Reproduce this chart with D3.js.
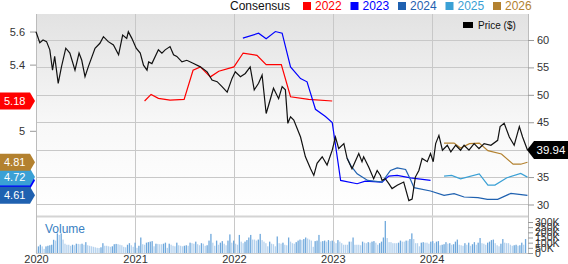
<!DOCTYPE html>
<html>
<head>
<meta charset="utf-8">
<script src="https://cdn.jsdelivr.net/npm/d3@7"></script>
<style>
  body { margin: 0; background: #fff; }
  svg { display: block; font-family: "Liberation Sans", Arial, sans-serif; }
</style>
</head>
<body>
<div id="chart"></div>
<script>
// Consensus EPS estimates vs. share price, 2020-2024

// ---------- Data ----------
const yearTicks = ["2020-01-01", "2021-01-01", "2022-01-01", "2023-01-01", "2024-01-01"];
const epsTicks = [5, 5.4, 5.6];           // the others sit under the badges
const priceTicks = [30, 35, 40, 45, 50, 55, 60];
const volumeTicks = [0, 50000, 100000, 150000, 200000, 250000, 300000];

const priceSeries = [
  ["2020-01-01", 61.5], ["2020-01-15", 59.5], ["2020-01-27", 60.0], ["2020-02-09", 59.7],
  ["2020-02-21", 58.2], ["2020-03-02", 54.5], ["2020-03-10", 57.0], ["2020-03-23", 52.1],
  ["2020-04-04", 55.1], ["2020-04-20", 58.5], ["2020-05-05", 57.6], ["2020-05-24", 54.5],
  ["2020-06-08", 57.6], ["2020-06-18", 56.3], ["2020-06-30", 53.3], ["2020-07-12", 55.1],
  ["2020-08-06", 58.5], ["2020-08-24", 59.4], ["2020-09-06", 60.6], ["2020-09-24", 59.7],
  ["2020-10-13", 59.1], ["2020-11-01", 57.3], ["2020-11-16", 60.9], ["2020-12-01", 60.3],
  ["2020-12-07", 61.5], ["2020-12-20", 60.3], ["2021-01-05", 58.5], ["2021-01-20", 57.6],
  ["2021-02-01", 55.4], ["2021-02-14", 54.5], ["2021-02-20", 56.0], ["2021-03-04", 55.7],
  ["2021-03-28", 58.2], ["2021-04-10", 57.6], ["2021-04-22", 58.2], ["2021-05-10", 58.8],
  ["2021-05-23", 57.3], ["2021-06-04", 57.0], ["2021-06-23", 56.0], ["2021-07-11", 56.3],
  ["2021-08-05", 55.7], ["2021-08-30", 55.1], ["2021-09-24", 54.2], ["2021-10-12", 52.7],
  ["2021-10-31", 52.4], ["2021-11-18", 51.5], ["2021-12-07", 50.5], ["2021-12-25", 53.0],
  ["2022-01-06", 54.2], ["2022-01-25", 53.3], ["2022-02-12", 53.9], ["2022-03-02", 55.1],
  ["2022-03-17", 50.9], ["2022-04-02", 52.1], ["2022-04-15", 53.6], ["2022-04-30", 46.6],
  ["2022-05-09", 48.1], ["2022-05-27", 51.2], ["2022-06-15", 49.3], ["2022-06-28", 51.5],
  ["2022-07-10", 50.9], ["2022-07-19", 44.8], ["2022-07-29", 46.0], ["2022-08-10", 45.4],
  ["2022-09-04", 42.3], ["2022-09-22", 38.7], ["2022-10-11", 36.5], ["2022-10-23", 35.3],
  ["2022-11-04", 37.5], ["2022-11-23", 38.7], ["2022-12-11", 37.2], ["2022-12-30", 39.9],
  ["2023-01-11", 42.3], ["2023-01-23", 40.2], ["2023-02-11", 41.1], ["2023-02-23", 38.4],
  ["2023-03-13", 36.5], ["2023-04-07", 39.3], ["2023-04-19", 37.8], ["2023-04-25", 38.7],
  ["2023-05-14", 36.8], ["2023-06-01", 34.7], ["2023-06-14", 36.2], ["2023-06-26", 35.3],
  ["2023-07-02", 34.4], ["2023-07-14", 34.7], ["2023-07-27", 33.8], ["2023-08-08", 32.9],
  ["2023-08-27", 33.5], ["2023-09-20", 34.1], ["2023-10-09", 30.7], ["2023-10-21", 31.0],
  ["2023-11-02", 35.0], ["2023-11-15", 36.2], ["2023-11-27", 38.4], ["2023-12-16", 37.8],
  ["2023-12-28", 39.3], ["2024-01-07", 37.8], ["2024-01-16", 41.1], ["2024-01-28", 42.6],
  ["2024-02-10", 39.9], ["2024-02-28", 40.8], ["2024-03-12", 39.6], ["2024-03-30", 40.8],
  ["2024-04-17", 39.9], ["2024-04-30", 40.8], ["2024-05-18", 39.9], ["2024-06-06", 41.1],
  ["2024-06-24", 40.2], ["2024-07-13", 41.1], ["2024-08-07", 40.8], ["2024-09-01", 41.7],
  ["2024-09-10", 44.2], ["2024-09-25", 44.8], ["2024-10-14", 42.3], ["2024-11-01", 40.8],
  ["2024-11-20", 44.2], ["2024-12-02", 42.3], ["2024-12-20", 39.94]
];

const consensus2022 = [
  ["2021-02-05", 5.18], ["2021-03-01", 5.22], ["2021-03-28", 5.196], ["2021-05-10", 5.186],
  ["2021-07-01", 5.19], ["2021-08-03", 5.366], ["2021-08-30", 5.386], ["2021-10-06", 5.326],
  ["2021-11-06", 5.36], ["2022-01-01", 5.386], ["2022-02-04", 5.47], ["2022-03-27", 5.456],
  ["2022-04-30", 5.40], ["2022-06-25", 5.40], ["2022-07-29", 5.206], ["2022-10-04", 5.19],
  ["2022-12-30", 5.18]
];
const consensus2023 = [
  ["2022-02-03", 5.56], ["2022-04-02", 5.59], ["2022-04-30", 5.556], ["2022-06-03", 5.60],
  ["2022-06-28", 5.59], ["2022-07-29", 5.386], ["2022-09-04", 5.316], ["2022-09-28", 5.296],
  ["2022-10-29", 5.13], ["2022-12-05", 5.086], ["2022-12-30", 5.05], ["2023-01-30", 4.70],
  ["2023-04-01", 4.68], ["2023-05-01", 4.696], ["2023-07-02", 4.69], ["2023-07-27", 4.726],
  ["2023-08-27", 4.73], ["2023-10-15", 4.716], ["2023-12-28", 4.70]
];
const consensus2024 = [
  ["2023-02-23", 4.836], ["2023-03-10", 4.786], ["2023-04-01", 4.74], ["2023-05-10", 4.70],
  ["2023-07-02", 4.69], ["2023-08-02", 4.76], ["2023-08-27", 4.776], ["2023-09-27", 4.766],
  ["2023-10-15", 4.706], ["2023-10-28", 4.656], ["2023-12-28", 4.636], ["2024-02-16", 4.61],
  ["2024-03-24", 4.62], ["2024-04-30", 4.60], ["2024-06-20", 4.596], ["2024-07-25", 4.586],
  ["2024-09-01", 4.586], ["2024-10-20", 4.622], ["2024-12-20", 4.61]
];
const consensus2025 = [
  ["2024-02-16", 4.726], ["2024-03-15", 4.73], ["2024-04-17", 4.71], ["2024-06-25", 4.74],
  ["2024-07-27", 4.672], ["2024-08-22", 4.672], ["2024-10-05", 4.716], ["2024-11-25", 4.742],
  ["2024-12-20", 4.72]
];
const consensus2026 = [
  ["2024-02-16", 4.926], ["2024-03-24", 4.926], ["2024-04-17", 4.896], ["2024-05-20", 4.922],
  ["2024-06-25", 4.926], ["2024-07-27", 4.88], ["2024-09-15", 4.86], ["2024-10-28", 4.798],
  ["2024-11-25", 4.798], ["2024-12-20", 4.81]
];
const consensusNames = ["2022", "2023", "2024", "2025", "2026"];

// weekly volume in thousands, first bar on 2020-01-03
const volume2020 = [32, 64, 80, 64, 40, 64, 70, 75, 80, 128, 120, 190, 175, 190, 130, 90, 80, 80, 70, 80,
  75, 90, 88, 85, 90, 80, 105, 75, 70, 65, 60, 55, 50, 48, 55, 95, 70, 70, 65, 60, 65, 85, 88, 85, 80, 75,
  60, 55, 80, 95, 75, 60];
const volume2021 = [100, 50, 70, 150, 85, 80, 100, 105, 110, 115, 65, 90, 88, 85, 85, 90, 100, 50, 90, 80,
  70, 65, 100, 75, 70, 65, 70, 75, 70, 100, 95, 90, 110, 85, 75, 95, 90, 70, 75, 120, 185, 100, 70, 120,
  80, 100, 115, 90, 75, 120, 180, 100];
const volume2022 = [120, 90, 80, 175, 110, 95, 110, 125, 150, 175, 130, 130, 120, 130, 185, 125, 110, 95,
  65, 110, 90, 85, 65, 160, 95, 90, 100, 80, 75, 150, 110, 95, 90, 105, 120, 130, 125, 135, 150, 140, 130,
  120, 60, 115, 120, 175, 110, 115, 120, 110, 125, 115];
const volume2023 = [120, 110, 95, 125, 110, 95, 80, 80, 80, 110, 110, 150, 80, 80, 80, 75, 110, 100, 95,
  105, 100, 110, 115, 100, 80, 95, 110, 150, 310, 145, 105, 105, 95, 95, 95, 100, 120, 110, 110, 120, 120,
  135, 190, 135, 95, 95, 65, 100, 105, 100, 100, 90];
const volume2024 = [110, 115, 95, 110, 115, 75, 80, 85, 105, 90, 95, 80, 85, 110, 130, 80, 75, 70, 95, 80,
  100, 70, 85, 105, 80, 100, 145, 95, 90, 80, 100, 110, 125, 130, 95, 75, 65, 90, 135, 100, 95, 95, 80,
  70, 75, 80, 70, 75, 100, 80, 135];

// ---------- Layout ----------
const W = 568, H = 264;
const plotLeft = 36, plotRight = 528, plotTop = 14, mainBottom = 216, volBottom = 253;
const seriesColors = ["#ff0000", "#0000ff", "#1f61b0", "#3aa0d5", "#b3812f"];

const parse = d3.utcParse("%Y-%m-%d");

const x = d3.scaleUtc()
  .domain([parse("2020-01-01"), parse("2024-12-22")])
  .range([plotLeft, plotRight]);
const yEps = d3.scaleLinear().domain([4.485, 5.706]).range([mainBottom, plotTop]);
const yPrice = d3.scaleLinear().domain([27.9, 64.74]).range([mainBottom, plotTop]);
const yVol = d3.scaleLinear().domain([0, 348400]).range([volBottom, mainBottom + 1]);

const svg = d3.select("#chart").append("svg")
  .attr("width", W).attr("height", H);

// background gradient of the price panel
const grad = svg.append("defs").append("linearGradient")
  .attr("id", "bg").attr("x1", 0).attr("y1", 0).attr("x2", 0).attr("y2", 1);
grad.append("stop").attr("offset", "0%").attr("stop-color", "#e2e2e2");
grad.append("stop").attr("offset", "55%").attr("stop-color", "#f8f8f8");
grad.append("stop").attr("offset", "100%").attr("stop-color", "#ffffff");

svg.append("rect")
  .attr("x", plotLeft).attr("y", plotTop)
  .attr("width", plotRight - plotLeft).attr("height", mainBottom - plotTop)
  .attr("fill", "url(#bg)");

// grid
svg.append("g").selectAll("line")
  .data(priceTicks)
  .join("line")
  .attr("x1", plotLeft).attr("x2", plotRight)
  .attr("y1", d => Math.round(yPrice(d)) + 0.5).attr("y2", d => Math.round(yPrice(d)) + 0.5)
  .attr("stroke", "#c8c8c8");

svg.append("g").selectAll("line")
  .data(yearTicks.map(parse))
  .join("line")
  .attr("x1", d => Math.round(x(d)) + 0.5).attr("x2", d => Math.round(x(d)) + 0.5)
  .attr("y1", plotTop).attr("y2", volBottom)
  .attr("stroke", "#c8c8c8");

// panel divider
svg.append("line")
  .attr("x1", plotLeft).attr("x2", plotRight)
  .attr("y1", mainBottom + 0.5).attr("y2", mainBottom + 0.5)
  .attr("stroke", "#d4d4d4").attr("stroke-width", 2);

// ---------- Volume ----------
const volumeAll = [].concat(volume2020, volume2021, volume2022, volume2023, volume2024);
const firstWeek = parse("2020-01-03");
const volumeData = volumeAll.map((v, i) => ({
  date: d3.utcDay.offset(firstWeek, i * 7),
  value: v * 1000,
  up: i > 0 && v > volumeAll[i - 1]
}));

svg.append("g").selectAll("rect")
  .data(volumeData)
  .join("rect")
  .attr("x", d => x(d.date) - 0.65)
  .attr("width", 1.3)
  .attr("y", d => yVol(d.value))
  .attr("height", d => volBottom - yVol(d.value))
  .attr("fill", d => d.up ? "#6fa8dc" : "#b5d2ee");

svg.append("text")
  .attr("x", 45).attr("y", 233)
  .attr("font-size", 12).attr("fill", "#3a7fc2")
  .text("Volume");

// ---------- Axes ----------
svg.append("line")
  .attr("x1", plotLeft + 0.5).attr("x2", plotLeft + 0.5).attr("y1", plotTop).attr("y2", volBottom)
  .attr("stroke", "#bcbcbc");
svg.append("line")
  .attr("x1", plotRight + 0.5).attr("x2", plotRight + 0.5).attr("y1", plotTop).attr("y2", volBottom)
  .attr("stroke", "#bcbcbc");
svg.append("line")
  .attr("x1", plotLeft).attr("x2", plotRight).attr("y1", volBottom + 0.5).attr("y2", volBottom + 0.5)
  .attr("stroke", "#cccccc");

function styleAxis(g) {
  g.select(".domain").remove();
  g.selectAll(".tick line").attr("stroke", "#999");
  g.selectAll(".tick text").attr("fill", "#333").attr("font-size", 11)
    .attr("font-family", '"Liberation Sans", Arial, sans-serif');
}

svg.append("g")
  .attr("transform", `translate(${plotLeft},0)`)
  .call(d3.axisLeft(yEps).tickValues(epsTicks).tickFormat(d3.format("~g")).tickSize(6).tickPadding(5))
  .call(styleAxis);

// the 40 label sits under the last-price badge
svg.append("g")
  .attr("transform", `translate(${plotRight},0)`)
  .call(d3.axisRight(yPrice).tickValues(priceTicks.filter(d => d !== 40)).tickSize(6).tickPadding(3))
  .call(styleAxis);

svg.append("g")
  .attr("transform", `translate(${plotRight},0)`)
  .call(d3.axisRight(yVol).tickValues(volumeTicks)
    .tickFormat(d => d === 0 ? "0" : d / 1000 + "K").tickSize(5).tickPadding(2))
  .call(styleAxis)
  .call(g => g.selectAll(".tick text").attr("font-size", 10.5));

svg.append("g")
  .attr("transform", `translate(0,${volBottom})`)
  .call(d3.axisBottom(x).tickValues(yearTicks.map(parse)).tickFormat(d3.utcFormat("%Y"))
    .tickSize(0).tickPadding(2))
  .call(styleAxis);

// ---------- Lines ----------
const epsLine = d3.line()
  .x(d => x(parse(d[0])))
  .y(d => yEps(d[1]));

const consensusSeries = [consensus2022, consensus2023, consensus2024, consensus2025, consensus2026];

svg.append("g").selectAll("path")
  .data(consensusSeries)
  .join("path")
  .attr("d", epsLine)
  .attr("fill", "none")
  .attr("stroke", (d, i) => seriesColors[i])
  .attr("stroke-width", 1.2);

const priceLine = d3.line()
  .x(d => x(parse(d[0])))
  .y(d => yPrice(d[1]));

svg.append("path")
  .datum(priceSeries)
  .attr("d", priceLine)
  .attr("fill", "none")
  .attr("stroke", "#111")
  .attr("stroke-width", 1.2);

// ---------- Badges ----------
// 2023 badge is drawn first and ends up hidden behind 2024/2025, as in the original
const badgeOrder = [1, 0, 2, 3, 4];
badgeOrder.forEach(i => {
  const series = consensusSeries[i];
  const last = series[series.length - 1][1];
  const y = yEps(last);
  svg.append("path")
    .attr("d", `M0,${y - 8.5}H30L35,${y}L30,${y + 8.5}H0Z`)
    .attr("fill", seriesColors[i]);
  if (i === 1) return;
  svg.append("text")
    .attr("x", 4).attr("y", y + 4)
    .attr("font-size", 11).attr("fill", "#fff")
    .text(d3.format(".2f")(last));
});

const lastPrice = priceSeries[priceSeries.length - 1][1];
const py = yPrice(lastPrice);
svg.append("path")
  .attr("d", `M527,${py}L534,${py - 9}H568V${py + 9}H534Z`)
  .attr("fill", "#000");
svg.append("text")
  .attr("x", 536.5).attr("y", py + 4)
  .attr("font-size", 11.5).attr("fill", "#fff")
  .text(d3.format(".2f")(lastPrice));

// ---------- Legends ----------
svg.append("text")
  .attr("x", 230).attr("y", 10)
  .attr("font-size", 12).attr("fill", "#111")
  .text("Consensus");

const legend = svg.append("g").selectAll("g")
  .data(consensusNames)
  .join("g")
  .attr("transform", (d, i) => `translate(${303 + i * 47.5},0)`);
legend.append("rect")
  .attr("x", 0).attr("y", 2).attr("width", 8).attr("height", 8)
  .attr("fill", (d, i) => seriesColors[i]);
legend.append("text")
  .attr("x", 12).attr("y", 10)
  .attr("font-size", 12)
  .attr("fill", (d, i) => seriesColors[i])
  .text(d => d);

svg.append("rect")
  .attr("x", 463).attr("y", 22).attr("width", 10).attr("height", 6)
  .attr("fill", "#000");
svg.append("text")
  .attr("x", 478).attr("y", 29)
  .attr("font-size", 10).attr("fill", "#111")
  .text("Price ($)");
</script>
</body>
</html>
